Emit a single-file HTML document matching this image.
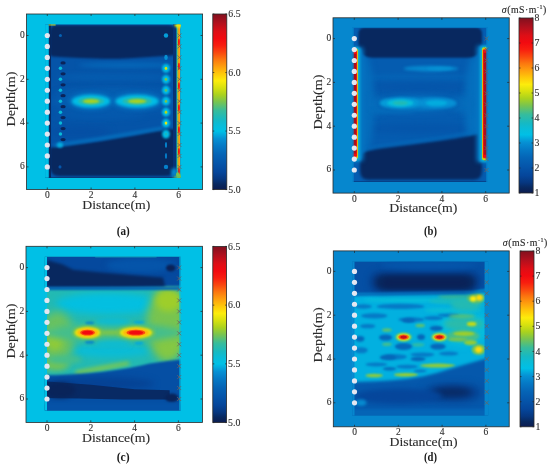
<!DOCTYPE html><html><head><meta charset="utf-8"><style>html,body{margin:0;padding:0;background:#fff;}svg{display:block}</style></head><body>
<svg width="550" height="466" viewBox="0 0 550 466">
<defs>
<linearGradient id="cmap" x1="0" y1="1" x2="0" y2="0"><stop offset="0.0" stop-color="#0c1c50"/><stop offset="0.03" stop-color="#08285f"/><stop offset="0.06" stop-color="#063780"/><stop offset="0.1" stop-color="#05469b"/><stop offset="0.15" stop-color="#0555aa"/><stop offset="0.2" stop-color="#0564b6"/><stop offset="0.25" stop-color="#057ac6"/><stop offset="0.29" stop-color="#0691d4"/><stop offset="0.333" stop-color="#00c0e6"/><stop offset="0.37" stop-color="#0abcd7"/><stop offset="0.4" stop-color="#16b9c3"/><stop offset="0.45" stop-color="#37bc9b"/><stop offset="0.5" stop-color="#78c450"/><stop offset="0.54" stop-color="#aad21e"/><stop offset="0.58" stop-color="#d7e10f"/><stop offset="0.62" stop-color="#fcec0c"/><stop offset="0.66" stop-color="#fec80a"/><stop offset="0.7" stop-color="#fea00e"/><stop offset="0.74" stop-color="#fc780f"/><stop offset="0.78" stop-color="#fa480f"/><stop offset="0.82" stop-color="#f81e0f"/><stop offset="0.86" stop-color="#f20a10"/><stop offset="0.9" stop-color="#de0e16"/><stop offset="0.95" stop-color="#b0101e"/><stop offset="1.0" stop-color="#82101e"/></linearGradient>
<filter id="b0_3" x="-50%" y="-50%" width="200%" height="200%" color-interpolation-filters="sRGB"><feGaussianBlur stdDeviation="0.3"/></filter>
<filter id="b0_4" x="-50%" y="-50%" width="200%" height="200%" color-interpolation-filters="sRGB"><feGaussianBlur stdDeviation="0.4"/></filter>
<filter id="b0_5" x="-50%" y="-50%" width="200%" height="200%" color-interpolation-filters="sRGB"><feGaussianBlur stdDeviation="0.5"/></filter>
<filter id="b0_6" x="-50%" y="-50%" width="200%" height="200%" color-interpolation-filters="sRGB"><feGaussianBlur stdDeviation="0.6"/></filter>
<filter id="b0_7" x="-50%" y="-50%" width="200%" height="200%" color-interpolation-filters="sRGB"><feGaussianBlur stdDeviation="0.7"/></filter>
<filter id="b0_8" x="-50%" y="-50%" width="200%" height="200%" color-interpolation-filters="sRGB"><feGaussianBlur stdDeviation="0.8"/></filter>
<filter id="b0_9" x="-50%" y="-50%" width="200%" height="200%" color-interpolation-filters="sRGB"><feGaussianBlur stdDeviation="0.9"/></filter>
<filter id="b1" x="-50%" y="-50%" width="200%" height="200%" color-interpolation-filters="sRGB"><feGaussianBlur stdDeviation="1"/></filter>
<filter id="b1_2" x="-50%" y="-50%" width="200%" height="200%" color-interpolation-filters="sRGB"><feGaussianBlur stdDeviation="1.2"/></filter>
<filter id="b1_5" x="-50%" y="-50%" width="200%" height="200%" color-interpolation-filters="sRGB"><feGaussianBlur stdDeviation="1.5"/></filter>
<filter id="b1_8" x="-50%" y="-50%" width="200%" height="200%" color-interpolation-filters="sRGB"><feGaussianBlur stdDeviation="1.8"/></filter>
<filter id="b2" x="-50%" y="-50%" width="200%" height="200%" color-interpolation-filters="sRGB"><feGaussianBlur stdDeviation="2"/></filter>
<filter id="b2_5" x="-50%" y="-50%" width="200%" height="200%" color-interpolation-filters="sRGB"><feGaussianBlur stdDeviation="2.5"/></filter>
<filter id="b3" x="-50%" y="-50%" width="200%" height="200%" color-interpolation-filters="sRGB"><feGaussianBlur stdDeviation="3"/></filter>
<filter id="b3_5" x="-50%" y="-50%" width="200%" height="200%" color-interpolation-filters="sRGB"><feGaussianBlur stdDeviation="3.5"/></filter>
<filter id="b4" x="-50%" y="-50%" width="200%" height="200%" color-interpolation-filters="sRGB"><feGaussianBlur stdDeviation="4"/></filter>
<filter id="b4_5" x="-50%" y="-50%" width="200%" height="200%" color-interpolation-filters="sRGB"><feGaussianBlur stdDeviation="4.5"/></filter>
<filter id="b5" x="-50%" y="-50%" width="200%" height="200%" color-interpolation-filters="sRGB"><feGaussianBlur stdDeviation="5"/></filter>
<filter id="b6" x="-50%" y="-50%" width="200%" height="200%" color-interpolation-filters="sRGB"><feGaussianBlur stdDeviation="6"/></filter>
<filter id="b7" x="-50%" y="-50%" width="200%" height="200%" color-interpolation-filters="sRGB"><feGaussianBlur stdDeviation="7"/></filter>
<filter id="b8" x="-50%" y="-50%" width="200%" height="200%" color-interpolation-filters="sRGB"><feGaussianBlur stdDeviation="8"/></filter>
<filter id="b10" x="-50%" y="-50%" width="200%" height="200%" color-interpolation-filters="sRGB"><feGaussianBlur stdDeviation="10"/></filter>
</defs>
<rect width="550" height="466" fill="#fff"/>
<rect x="26.5" y="14" width="176.1" height="175.5" fill="#00c0e6"/>
<clipPath id="clipa"><rect x="45.11" y="24.55" width="135.78" height="153.3"/></clipPath>
<g clip-path="url(#clipa)">
<rect x="40.73" y="17.98" width="144.54" height="166.44" fill="#0554a8"/>
<ellipse cx="126.14" cy="65.06" rx="48.18" ry="2.63" fill="#0568b9" filter="url(#b2)"/>
<ellipse cx="113" cy="77.11" rx="56.94" ry="3.94" fill="#055caf" filter="url(#b2_5)"/>
<ellipse cx="113" cy="92.44" rx="56.94" ry="4.38" fill="#055caf" filter="url(#b2_5)"/>
<ellipse cx="113" cy="101.2" rx="61.32" ry="10.95" fill="#055eb1" filter="url(#b4)"/>
<ellipse cx="99.86" cy="114.34" rx="43.8" ry="5.47" fill="#0559ad" filter="url(#b3)"/>
<ellipse cx="80.15" cy="131.86" rx="30.66" ry="5.47" fill="#054fa4" filter="url(#b3)"/>
<path d="M56.93,25.21 L168.41,25.21 Q175.41,25.21 175.41,32.21 L175.41,52.21 Q175.41,55.21 172.42,55.43 L160.63,56.3 Q145.85,57.4 129.42,58.28 L129.42,58.28 Q113,59.15 96.57,58.6 L96.57,58.6 Q80.15,58.06 65.04,57.18 L52.92,56.48 Q49.93,56.3 49.93,53.3 L49.93,32.21 Q49.93,25.21 56.93,25.21Z" fill="#08285f" filter="url(#b0_8)"/>
<path d="M52.91,147.29 L59.56,146.53 Q69.2,145.44 85.62,143.25 L85.62,143.25 Q102.05,141.06 118.47,138.1 L118.47,138.1 Q134.9,135.14 145.85,132.95 L145.85,132.95 Q156.8,130.76 166.11,129.67 L172.44,128.93 Q175.41,128.57 175.41,131.57 L175.41,166.1 Q175.41,176.1 165.41,176.1 L59.93,176.1 Q49.93,176.1 49.93,166.1 L49.93,150.63 Q49.93,147.63 52.91,147.29Z" fill="#08285f" filter="url(#b0_8)"/>
<path d="M53.87,143.91 L102.05,136.68 L163.37,126.39 L163.37,130.11 L102.05,140.18 L53.87,147.19Z" fill="#057ac6" filter="url(#b1_5)" opacity="0.7"/>
<rect x="42.92" y="177.19" width="142.35" height="2.85" fill="#0a2156"/>
<rect x="48.61" y="22.36" width="2.41" height="157.68" fill="#08285f" filter="url(#b0_4)"/>
<rect x="40.73" y="17.98" width="7.99" height="166.44" fill="#00c0e6"/>
<ellipse cx="91.1" cy="101.2" rx="22.34" ry="8.76" fill="#0571c0" filter="url(#b2)"/>
<ellipse cx="91.1" cy="101.2" rx="19.17" ry="6.35" fill="#00bde5" filter="url(#b1_5)"/>
<ellipse cx="91.1" cy="101.2" rx="13.03" ry="3.72" fill="#28bbad" filter="url(#b1_2)"/>
<ellipse cx="91.1" cy="101.2" rx="8.38" ry="2.19" fill="#a9d21f" filter="url(#b1)"/>
<ellipse cx="137.09" cy="101.2" rx="24.97" ry="8.76" fill="#0571c0" filter="url(#b2)"/>
<ellipse cx="137.09" cy="101.2" rx="21.43" ry="6.35" fill="#00bde5" filter="url(#b1_5)"/>
<ellipse cx="137.09" cy="101.2" rx="14.56" ry="3.72" fill="#28bbad" filter="url(#b1_2)"/>
<ellipse cx="137.09" cy="101.2" rx="9.36" ry="2.19" fill="#a9d21f" filter="url(#b1)"/>
<ellipse cx="60.44" cy="68.35" rx="1.75" ry="1.75" fill="#09bcd8" filter="url(#b0_5)"/>
<ellipse cx="63.07" cy="62.88" rx="2.63" ry="1.64" fill="#0a2359" filter="url(#b0_5)"/>
<ellipse cx="60.44" cy="79.3" rx="1.75" ry="1.75" fill="#09bcd8" filter="url(#b0_5)"/>
<ellipse cx="63.07" cy="73.82" rx="2.63" ry="1.64" fill="#0a2359" filter="url(#b0_5)"/>
<ellipse cx="60.44" cy="90.25" rx="1.75" ry="1.75" fill="#09bcd8" filter="url(#b0_5)"/>
<ellipse cx="63.07" cy="84.78" rx="2.63" ry="1.64" fill="#0a2359" filter="url(#b0_5)"/>
<ellipse cx="60.44" cy="101.2" rx="1.75" ry="1.75" fill="#09bcd8" filter="url(#b0_5)"/>
<ellipse cx="63.07" cy="95.72" rx="2.63" ry="1.64" fill="#0a2359" filter="url(#b0_5)"/>
<ellipse cx="60.44" cy="112.15" rx="1.75" ry="1.75" fill="#09bcd8" filter="url(#b0_5)"/>
<ellipse cx="63.07" cy="106.67" rx="2.63" ry="1.64" fill="#0a2359" filter="url(#b0_5)"/>
<ellipse cx="60.44" cy="123.1" rx="1.75" ry="1.75" fill="#09bcd8" filter="url(#b0_5)"/>
<ellipse cx="63.07" cy="117.62" rx="2.63" ry="1.64" fill="#0a2359" filter="url(#b0_5)"/>
<ellipse cx="60.44" cy="134.05" rx="1.75" ry="1.75" fill="#09bcd8" filter="url(#b0_5)"/>
<ellipse cx="63.07" cy="128.57" rx="2.63" ry="1.64" fill="#0a2359" filter="url(#b0_5)"/>
<ellipse cx="63.07" cy="139.52" rx="2.63" ry="1.64" fill="#0a2359" filter="url(#b0_5)"/>
<ellipse cx="60.44" cy="35.5" rx="1.53" ry="1.53" fill="#0561b4" filter="url(#b0_5)"/>
<ellipse cx="60" cy="145" rx="3.07" ry="2.63" fill="#03acde" filter="url(#b0_8)"/>
<ellipse cx="60" cy="166.9" rx="1.53" ry="1.53" fill="#0556ab" filter="url(#b0_5)"/>
<ellipse cx="166" cy="68.35" rx="3.94" ry="4.38" fill="#00bde5" filter="url(#b0_9)"/>
<ellipse cx="166" cy="68.35" rx="1.31" ry="1.53" fill="#d7e10f" filter="url(#b0_5)"/>
<ellipse cx="166" cy="79.3" rx="3.94" ry="4.38" fill="#00bde5" filter="url(#b0_9)"/>
<ellipse cx="166" cy="79.3" rx="1.31" ry="1.53" fill="#78c450" filter="url(#b0_5)"/>
<ellipse cx="166" cy="90.25" rx="3.94" ry="4.38" fill="#00bde5" filter="url(#b0_9)"/>
<ellipse cx="166" cy="90.25" rx="1.31" ry="1.53" fill="#5ec16e" filter="url(#b0_5)"/>
<ellipse cx="166" cy="101.2" rx="3.94" ry="4.38" fill="#00bde5" filter="url(#b0_9)"/>
<ellipse cx="166" cy="101.2" rx="1.31" ry="1.53" fill="#78c450" filter="url(#b0_5)"/>
<ellipse cx="166" cy="112.15" rx="3.94" ry="4.38" fill="#00bde5" filter="url(#b0_9)"/>
<ellipse cx="166" cy="112.15" rx="1.31" ry="1.53" fill="#b5d61a" filter="url(#b0_5)"/>
<ellipse cx="166" cy="123.1" rx="3.94" ry="4.38" fill="#00bde5" filter="url(#b0_9)"/>
<ellipse cx="166" cy="123.1" rx="1.31" ry="1.53" fill="#eae60e" filter="url(#b0_5)"/>
<ellipse cx="166" cy="134.05" rx="3.94" ry="4.38" fill="#00bde5" filter="url(#b0_9)"/>
<ellipse cx="166" cy="134.05" rx="1.31" ry="1.53" fill="#16b9c3" filter="url(#b0_5)"/>
<ellipse cx="166" cy="35.5" rx="2.19" ry="2.19" fill="#049ed9" filter="url(#b0_6)"/>
<ellipse cx="166" cy="57.4" rx="1.75" ry="2.63" fill="#0691d4" filter="url(#b0_6)"/>
<ellipse cx="166" cy="145" rx="1.09" ry="3.07" fill="#0581cb" filter="url(#b0_6)"/>
<ellipse cx="166" cy="155.95" rx="1.09" ry="3.07" fill="#057ac6" filter="url(#b0_6)"/>
<ellipse cx="166" cy="166.9" rx="2.19" ry="2.19" fill="#0581cb" filter="url(#b0_6)"/>
<rect x="173.01" y="22.36" width="3.5" height="157.68" fill="#073275" filter="url(#b0_5)"/>
<rect x="176.51" y="22.36" width="1.31" height="157.68" fill="#16b9c3" filter="url(#b0_4)"/>
<rect x="177.39" y="22.36" width="0.99" height="157.68" fill="#c1da16" filter="url(#b0_3)"/>
<rect x="178.15" y="22.36" width="2.08" height="157.68" fill="#fea00e"/>
<ellipse cx="178.92" cy="42.07" rx="0.88" ry="3.5" fill="#f40f10" filter="url(#b0_4)"/>
<ellipse cx="178.92" cy="66.16" rx="0.88" ry="3.5" fill="#f40f10" filter="url(#b0_4)"/>
<ellipse cx="178.92" cy="85.87" rx="0.88" ry="3.5" fill="#f40f10" filter="url(#b0_4)"/>
<ellipse cx="178.92" cy="107.77" rx="0.88" ry="3.5" fill="#f40f10" filter="url(#b0_4)"/>
<ellipse cx="178.92" cy="129.67" rx="0.88" ry="3.5" fill="#f40f10" filter="url(#b0_4)"/>
<ellipse cx="178.92" cy="151.57" rx="0.88" ry="3.5" fill="#f40f10" filter="url(#b0_4)"/>
<ellipse cx="178.92" cy="171.28" rx="0.88" ry="3.5" fill="#f40f10" filter="url(#b0_4)"/>
<rect x="180.23" y="17.98" width="7.23" height="166.44" fill="#00c0e6"/>
<rect x="48.61" y="24.11" width="7.01" height="1.31" fill="#e9e60e"/>
<ellipse cx="178.7" cy="24.55" rx="4.38" ry="3.07" fill="#eae60e" filter="url(#b0_8)"/>
<ellipse cx="178.7" cy="177.85" rx="5.47" ry="3.94" fill="#75c453" filter="url(#b1)"/>
<ellipse cx="174.32" cy="172.38" rx="3.28" ry="4.38" fill="#0686cd" filter="url(#b1_5)"/>
<ellipse cx="177.61" cy="174.56" rx="1.53" ry="2.19" fill="#78c450" filter="url(#b0_6)"/>
</g>
<circle cx="47.3" cy="35.5" r="2.6" fill="#e4e7f1"/>
<circle cx="47.3" cy="46.45" r="2.6" fill="#e4e7f1"/>
<circle cx="47.3" cy="57.4" r="2.6" fill="#e4e7f1"/>
<circle cx="47.3" cy="68.35" r="2.6" fill="#e4e7f1"/>
<circle cx="47.3" cy="79.3" r="2.6" fill="#e4e7f1"/>
<circle cx="47.3" cy="90.25" r="2.6" fill="#e4e7f1"/>
<circle cx="47.3" cy="101.2" r="2.6" fill="#e4e7f1"/>
<circle cx="47.3" cy="112.15" r="2.6" fill="#e4e7f1"/>
<circle cx="47.3" cy="123.1" r="2.6" fill="#e4e7f1"/>
<circle cx="47.3" cy="134.05" r="2.6" fill="#e4e7f1"/>
<circle cx="47.3" cy="145" r="2.6" fill="#e4e7f1"/>
<circle cx="47.3" cy="155.95" r="2.6" fill="#e4e7f1"/>
<circle cx="47.3" cy="166.9" r="2.6" fill="#e4e7f1"/>
<path d="M177.5,33.5L181.5,37.5M177.5,37.5L181.5,33.5" stroke="#6a6262" stroke-width="0.8" fill="none"/>
<path d="M177.5,44.45L181.5,48.45M177.5,48.45L181.5,44.45" stroke="#6a6262" stroke-width="0.8" fill="none"/>
<path d="M177.5,55.4L181.5,59.4M177.5,59.4L181.5,55.4" stroke="#6a6262" stroke-width="0.8" fill="none"/>
<path d="M177.5,66.35L181.5,70.35M177.5,70.35L181.5,66.35" stroke="#6a6262" stroke-width="0.8" fill="none"/>
<path d="M177.5,77.3L181.5,81.3M177.5,81.3L181.5,77.3" stroke="#6a6262" stroke-width="0.8" fill="none"/>
<path d="M177.5,88.25L181.5,92.25M177.5,92.25L181.5,88.25" stroke="#6a6262" stroke-width="0.8" fill="none"/>
<path d="M177.5,99.2L181.5,103.2M177.5,103.2L181.5,99.2" stroke="#6a6262" stroke-width="0.8" fill="none"/>
<path d="M177.5,110.15L181.5,114.15M177.5,114.15L181.5,110.15" stroke="#6a6262" stroke-width="0.8" fill="none"/>
<path d="M177.5,121.1L181.5,125.1M177.5,125.1L181.5,121.1" stroke="#6a6262" stroke-width="0.8" fill="none"/>
<path d="M177.5,132.05L181.5,136.05M177.5,136.05L181.5,132.05" stroke="#6a6262" stroke-width="0.8" fill="none"/>
<path d="M177.5,143L181.5,147M177.5,147L181.5,143" stroke="#6a6262" stroke-width="0.8" fill="none"/>
<path d="M177.5,153.95L181.5,157.95M177.5,157.95L181.5,153.95" stroke="#6a6262" stroke-width="0.8" fill="none"/>
<path d="M177.5,164.9L181.5,168.9M177.5,168.9L181.5,164.9" stroke="#6a6262" stroke-width="0.8" fill="none"/>
<line x1="47.3" y1="14" x2="47.3" y2="16" stroke="#222" stroke-width="0.7"/>
<line x1="47.3" y1="189.5" x2="47.3" y2="187.5" stroke="#222" stroke-width="0.7"/>
<text x="47.3" y="198" font-family="Liberation Serif, serif" font-size="9.5" text-anchor="middle" fill="#2b2b2b" stroke="#2b2b2b" stroke-width="0.1">0</text>
<line x1="91.1" y1="14" x2="91.1" y2="16" stroke="#222" stroke-width="0.7"/>
<line x1="91.1" y1="189.5" x2="91.1" y2="187.5" stroke="#222" stroke-width="0.7"/>
<text x="91.1" y="198" font-family="Liberation Serif, serif" font-size="9.5" text-anchor="middle" fill="#2b2b2b" stroke="#2b2b2b" stroke-width="0.1">2</text>
<line x1="134.9" y1="14" x2="134.9" y2="16" stroke="#222" stroke-width="0.7"/>
<line x1="134.9" y1="189.5" x2="134.9" y2="187.5" stroke="#222" stroke-width="0.7"/>
<text x="134.9" y="198" font-family="Liberation Serif, serif" font-size="9.5" text-anchor="middle" fill="#2b2b2b" stroke="#2b2b2b" stroke-width="0.1">4</text>
<line x1="178.7" y1="14" x2="178.7" y2="16" stroke="#222" stroke-width="0.7"/>
<line x1="178.7" y1="189.5" x2="178.7" y2="187.5" stroke="#222" stroke-width="0.7"/>
<text x="178.7" y="198" font-family="Liberation Serif, serif" font-size="9.5" text-anchor="middle" fill="#2b2b2b" stroke="#2b2b2b" stroke-width="0.1">6</text>
<line x1="26.5" y1="35.5" x2="28.5" y2="35.5" stroke="#222" stroke-width="0.7"/>
<line x1="202.6" y1="35.5" x2="200.6" y2="35.5" stroke="#222" stroke-width="0.7"/>
<text x="24.8" y="37.8" font-family="Liberation Serif, serif" font-size="9.5" text-anchor="end" fill="#2b2b2b" stroke="#2b2b2b" stroke-width="0.1">0</text>
<line x1="26.5" y1="79.3" x2="28.5" y2="79.3" stroke="#222" stroke-width="0.7"/>
<line x1="202.6" y1="79.3" x2="200.6" y2="79.3" stroke="#222" stroke-width="0.7"/>
<text x="24.8" y="81.6" font-family="Liberation Serif, serif" font-size="9.5" text-anchor="end" fill="#2b2b2b" stroke="#2b2b2b" stroke-width="0.1">2</text>
<line x1="26.5" y1="123.1" x2="28.5" y2="123.1" stroke="#222" stroke-width="0.7"/>
<line x1="202.6" y1="123.1" x2="200.6" y2="123.1" stroke="#222" stroke-width="0.7"/>
<text x="24.8" y="125.4" font-family="Liberation Serif, serif" font-size="9.5" text-anchor="end" fill="#2b2b2b" stroke="#2b2b2b" stroke-width="0.1">4</text>
<line x1="26.5" y1="166.9" x2="28.5" y2="166.9" stroke="#222" stroke-width="0.7"/>
<line x1="202.6" y1="166.9" x2="200.6" y2="166.9" stroke="#222" stroke-width="0.7"/>
<text x="24.8" y="169.2" font-family="Liberation Serif, serif" font-size="9.5" text-anchor="end" fill="#2b2b2b" stroke="#2b2b2b" stroke-width="0.1">6</text>
<rect x="26.5" y="14" width="176.1" height="175.5" fill="none" stroke="#2a2a2a" stroke-width="0.8"/>
<text x="82.34" y="208.7" font-family="Liberation Serif, serif" font-size="12.4" fill="#2b2b2b" stroke="#2b2b2b" stroke-width="0.1" textLength="68" lengthAdjust="spacingAndGlyphs">Distance(m)</text>
<text transform="translate(15.3,99.01) rotate(-90)" font-family="Liberation Serif, serif" font-size="12.4" fill="#2b2b2b" stroke="#2b2b2b" stroke-width="0.1" text-anchor="middle" textLength="55" lengthAdjust="spacingAndGlyphs">Depth(m)</text>
<rect x="212.8" y="14" width="14" height="175.6" fill="url(#cmap)" stroke="#2a2a2a" stroke-width="0.8"/>
<line x1="212.8" y1="189.6" x2="214.3" y2="189.6" stroke="#222" stroke-width="0.7"/>
<line x1="226.8" y1="189.6" x2="225.3" y2="189.6" stroke="#222" stroke-width="0.7"/>
<text x="228.3" y="192.7" font-family="Liberation Serif, serif" font-size="9.8" fill="#2b2b2b" stroke="#2b2b2b" stroke-width="0.1">5.0</text>
<line x1="212.8" y1="131.07" x2="214.3" y2="131.07" stroke="#222" stroke-width="0.7"/>
<line x1="226.8" y1="131.07" x2="225.3" y2="131.07" stroke="#222" stroke-width="0.7"/>
<text x="228.3" y="134.17" font-family="Liberation Serif, serif" font-size="9.8" fill="#2b2b2b" stroke="#2b2b2b" stroke-width="0.1">5.5</text>
<line x1="212.8" y1="72.53" x2="214.3" y2="72.53" stroke="#222" stroke-width="0.7"/>
<line x1="226.8" y1="72.53" x2="225.3" y2="72.53" stroke="#222" stroke-width="0.7"/>
<text x="228.3" y="75.63" font-family="Liberation Serif, serif" font-size="9.8" fill="#2b2b2b" stroke="#2b2b2b" stroke-width="0.1">6.0</text>
<line x1="212.8" y1="14" x2="214.3" y2="14" stroke="#222" stroke-width="0.7"/>
<line x1="226.8" y1="14" x2="225.3" y2="14" stroke="#222" stroke-width="0.7"/>
<text x="228.3" y="17.1" font-family="Liberation Serif, serif" font-size="9.8" fill="#2b2b2b" stroke="#2b2b2b" stroke-width="0.1">6.5</text>
<text x="123.2" y="234.8" font-family="Liberation Serif, serif" font-size="12" font-weight="bold" fill="#1a1a1a" text-anchor="middle" textLength="13" lengthAdjust="spacingAndGlyphs">(a)</text>
<rect x="333" y="17.8" width="176.2" height="175.3" fill="#0687ce"/>
<clipPath id="clipb"><rect x="352.11" y="27.65" width="135.78" height="154.39"/></clipPath>
<g clip-path="url(#clipb)">
<rect x="347.73" y="21.08" width="144.54" height="166.44" fill="#055cb0"/>
<ellipse cx="420" cy="77.58" rx="61.32" ry="3.28" fill="#0564b6" filter="url(#b2_5)"/>
<ellipse cx="420" cy="86.78" rx="56.94" ry="4.82" fill="#0555aa" filter="url(#b3)"/>
<ellipse cx="430.95" cy="68.6" rx="27.38" ry="2.85" fill="#0688cf" filter="url(#b1_8)"/>
<ellipse cx="439.71" cy="68.6" rx="13.14" ry="1.53" fill="#0691d4" filter="url(#b1_2)"/>
<ellipse cx="420" cy="128.39" rx="56.94" ry="4.82" fill="#0555aa" filter="url(#b3)"/>
<ellipse cx="474.75" cy="104.3" rx="9.86" ry="50.37" fill="#056fbe" filter="url(#b3)"/>
<ellipse cx="364.16" cy="104.3" rx="9.86" ry="50.37" fill="#056dbc" filter="url(#b3)"/>
<ellipse cx="376.2" cy="105.39" rx="13.14" ry="7.66" fill="#056dbc" filter="url(#b3)"/>
<ellipse cx="463.8" cy="104.3" rx="13.14" ry="7.66" fill="#056dbc" filter="url(#b3)"/>
<ellipse cx="418.91" cy="103.64" rx="42.7" ry="9.86" fill="#0564b6" filter="url(#b2_5)"/>
<ellipse cx="418.91" cy="103.64" rx="38.32" ry="6.57" fill="#057ac6" filter="url(#b1_8)"/>
<ellipse cx="393.72" cy="111.31" rx="21.9" ry="2.19" fill="#056dbc" filter="url(#b2)"/>
<ellipse cx="400.29" cy="102.99" rx="20.8" ry="5.47" fill="#059cd8" filter="url(#b1_5)"/>
<ellipse cx="400.29" cy="102.99" rx="13.14" ry="3.5" fill="#07bddb" filter="url(#b1_2)"/>
<ellipse cx="400.29" cy="102.99" rx="7.66" ry="1.97" fill="#23bab3" filter="url(#b1)"/>
<ellipse cx="436.43" cy="102.99" rx="19.71" ry="5.04" fill="#0691d4" filter="url(#b1_5)"/>
<ellipse cx="436.43" cy="102.99" rx="10.95" ry="2.85" fill="#03acde" filter="url(#b1_2)"/>
<path d="M364.46,27.65 L475.98,27.65 Q481.98,27.65 481.98,33.65 L481.98,42.65 Q481.98,57.65 466.98,57.65 L373.46,57.65 Q358.46,57.65 358.46,42.65 L358.46,33.65 Q358.46,27.65 364.46,27.65Z" fill="#08285f" filter="url(#b0_9)"/>
<path d="M363.72,152.48 L363.72,152.48 Q367.44,150.29 379.32,148.59 L382.77,148.1 Q398.1,145.91 414.52,143.94 L414.52,143.94 Q430.95,141.97 447.38,139.56 L447.38,139.56 Q463.8,137.15 472.89,135.18 L476.11,134.48 Q481.98,133.21 481.98,139.21 L481.98,170.85 Q481.98,179.85 472.98,179.85 L368.99,179.85 Q359.99,179.85 359.99,170.85 L359.99,162.67 Q359.99,154.67 363.72,152.48Z" fill="#08285f" filter="url(#b1_5)"/>
<path d="M360.87,149.19 L376.2,145.47 L409.05,141.09 L441.9,136.71 L481.32,129.49 L481.32,132.33 L441.9,139.34 L409.05,143.72 L376.2,148.1 L360.87,152.04Z" fill="#056dbc" filter="url(#b1_5)" opacity="0.7"/>
<rect x="349.92" y="181.61" width="142.35" height="3.72" fill="#0a2156"/>
<rect x="349.92" y="47.36" width="13.58" height="113.88" rx="2" fill="#0576c3" filter="url(#b2)"/>
<rect x="349.92" y="47.36" width="10.95" height="113.88" rx="2" fill="#068bd0" filter="url(#b1_2)"/>
<rect x="349.92" y="47.8" width="9.2" height="112.35" rx="2" fill="#0ebbd0" filter="url(#b0_8)"/>
<rect x="349.92" y="48.45" width="8.1" height="110.59" rx="2" fill="#c1da16" filter="url(#b0_5)"/>
<rect x="349.92" y="49.55" width="7.45" height="108.41" rx="2" fill="#fd8c0e" filter="url(#b0_4)"/>
<rect x="349.92" y="50.65" width="7.01" height="106.22" rx="1" fill="#f20a10" filter="url(#b0_3)"/>
<rect x="349.92" y="53.93" width="6.24" height="99.64" fill="#a7101e" filter="url(#b0_3)"/>
<rect x="476.5" y="45.61" width="15.77" height="116.73" rx="2" fill="#0576c3" filter="url(#b2)"/>
<rect x="479.13" y="45.61" width="13.14" height="116.73" rx="2" fill="#068bd0" filter="url(#b1_2)"/>
<rect x="480.88" y="46.48" width="11.39" height="114.76" rx="2" fill="#0ebbd0" filter="url(#b0_8)"/>
<rect x="481.98" y="47.36" width="10.29" height="112.78" rx="2" fill="#c1da16" filter="url(#b0_5)"/>
<rect x="482.63" y="48.45" width="9.64" height="110.59" rx="2" fill="#fd8c0e" filter="url(#b0_4)"/>
<rect x="483.07" y="49.55" width="9.2" height="108.41" rx="1" fill="#f20a10" filter="url(#b0_3)"/>
<rect x="483.95" y="52.84" width="8.32" height="101.83" fill="#a7101e" filter="url(#b0_3)"/>
<rect x="343.35" y="21.08" width="10.29" height="166.44" fill="#0687ce"/>
<rect x="486.36" y="21.08" width="10.29" height="166.44" fill="#0687ce"/>
</g>
<circle cx="354.3" cy="38.6" r="2.6" fill="#e4e7f1"/>
<circle cx="354.3" cy="49.55" r="2.6" fill="#e4e7f1"/>
<circle cx="354.3" cy="60.5" r="2.6" fill="#e4e7f1"/>
<circle cx="354.3" cy="71.45" r="2.6" fill="#e4e7f1"/>
<circle cx="354.3" cy="82.4" r="2.6" fill="#e4e7f1"/>
<circle cx="354.3" cy="93.35" r="2.6" fill="#e4e7f1"/>
<circle cx="354.3" cy="104.3" r="2.6" fill="#e4e7f1"/>
<circle cx="354.3" cy="115.25" r="2.6" fill="#e4e7f1"/>
<circle cx="354.3" cy="126.2" r="2.6" fill="#e4e7f1"/>
<circle cx="354.3" cy="137.15" r="2.6" fill="#e4e7f1"/>
<circle cx="354.3" cy="148.1" r="2.6" fill="#e4e7f1"/>
<circle cx="354.3" cy="159.05" r="2.6" fill="#e4e7f1"/>
<circle cx="354.3" cy="170" r="2.6" fill="#e4e7f1"/>
<path d="M484.5,36.6L488.5,40.6M484.5,40.6L488.5,36.6" stroke="#6a6262" stroke-width="0.8" fill="none"/>
<path d="M484.5,47.55L488.5,51.55M484.5,51.55L488.5,47.55" stroke="#6a6262" stroke-width="0.8" fill="none"/>
<path d="M484.5,58.5L488.5,62.5M484.5,62.5L488.5,58.5" stroke="#6a6262" stroke-width="0.8" fill="none"/>
<path d="M484.5,69.45L488.5,73.45M484.5,73.45L488.5,69.45" stroke="#6a6262" stroke-width="0.8" fill="none"/>
<path d="M484.5,80.4L488.5,84.4M484.5,84.4L488.5,80.4" stroke="#6a6262" stroke-width="0.8" fill="none"/>
<path d="M484.5,91.35L488.5,95.35M484.5,95.35L488.5,91.35" stroke="#6a6262" stroke-width="0.8" fill="none"/>
<path d="M484.5,102.3L488.5,106.3M484.5,106.3L488.5,102.3" stroke="#6a6262" stroke-width="0.8" fill="none"/>
<path d="M484.5,113.25L488.5,117.25M484.5,117.25L488.5,113.25" stroke="#6a6262" stroke-width="0.8" fill="none"/>
<path d="M484.5,124.2L488.5,128.2M484.5,128.2L488.5,124.2" stroke="#6a6262" stroke-width="0.8" fill="none"/>
<path d="M484.5,135.15L488.5,139.15M484.5,139.15L488.5,135.15" stroke="#6a6262" stroke-width="0.8" fill="none"/>
<path d="M484.5,146.1L488.5,150.1M484.5,150.1L488.5,146.1" stroke="#6a6262" stroke-width="0.8" fill="none"/>
<path d="M484.5,157.05L488.5,161.05M484.5,161.05L488.5,157.05" stroke="#6a6262" stroke-width="0.8" fill="none"/>
<path d="M484.5,168L488.5,172M484.5,172L488.5,168" stroke="#6a6262" stroke-width="0.8" fill="none"/>
<line x1="354.3" y1="17.8" x2="354.3" y2="19.8" stroke="#222" stroke-width="0.7"/>
<line x1="354.3" y1="193.1" x2="354.3" y2="191.1" stroke="#222" stroke-width="0.7"/>
<text x="354.3" y="201.6" font-family="Liberation Serif, serif" font-size="9.5" text-anchor="middle" fill="#2b2b2b" stroke="#2b2b2b" stroke-width="0.1">0</text>
<line x1="398.1" y1="17.8" x2="398.1" y2="19.8" stroke="#222" stroke-width="0.7"/>
<line x1="398.1" y1="193.1" x2="398.1" y2="191.1" stroke="#222" stroke-width="0.7"/>
<text x="398.1" y="201.6" font-family="Liberation Serif, serif" font-size="9.5" text-anchor="middle" fill="#2b2b2b" stroke="#2b2b2b" stroke-width="0.1">2</text>
<line x1="441.9" y1="17.8" x2="441.9" y2="19.8" stroke="#222" stroke-width="0.7"/>
<line x1="441.9" y1="193.1" x2="441.9" y2="191.1" stroke="#222" stroke-width="0.7"/>
<text x="441.9" y="201.6" font-family="Liberation Serif, serif" font-size="9.5" text-anchor="middle" fill="#2b2b2b" stroke="#2b2b2b" stroke-width="0.1">4</text>
<line x1="485.7" y1="17.8" x2="485.7" y2="19.8" stroke="#222" stroke-width="0.7"/>
<line x1="485.7" y1="193.1" x2="485.7" y2="191.1" stroke="#222" stroke-width="0.7"/>
<text x="485.7" y="201.6" font-family="Liberation Serif, serif" font-size="9.5" text-anchor="middle" fill="#2b2b2b" stroke="#2b2b2b" stroke-width="0.1">6</text>
<line x1="333" y1="38.6" x2="335" y2="38.6" stroke="#222" stroke-width="0.7"/>
<line x1="509.2" y1="38.6" x2="507.2" y2="38.6" stroke="#222" stroke-width="0.7"/>
<text x="331.3" y="40.9" font-family="Liberation Serif, serif" font-size="9.5" text-anchor="end" fill="#2b2b2b" stroke="#2b2b2b" stroke-width="0.1">0</text>
<line x1="333" y1="82.4" x2="335" y2="82.4" stroke="#222" stroke-width="0.7"/>
<line x1="509.2" y1="82.4" x2="507.2" y2="82.4" stroke="#222" stroke-width="0.7"/>
<text x="331.3" y="84.7" font-family="Liberation Serif, serif" font-size="9.5" text-anchor="end" fill="#2b2b2b" stroke="#2b2b2b" stroke-width="0.1">2</text>
<line x1="333" y1="126.2" x2="335" y2="126.2" stroke="#222" stroke-width="0.7"/>
<line x1="509.2" y1="126.2" x2="507.2" y2="126.2" stroke="#222" stroke-width="0.7"/>
<text x="331.3" y="128.5" font-family="Liberation Serif, serif" font-size="9.5" text-anchor="end" fill="#2b2b2b" stroke="#2b2b2b" stroke-width="0.1">4</text>
<line x1="333" y1="170" x2="335" y2="170" stroke="#222" stroke-width="0.7"/>
<line x1="509.2" y1="170" x2="507.2" y2="170" stroke="#222" stroke-width="0.7"/>
<text x="331.3" y="172.3" font-family="Liberation Serif, serif" font-size="9.5" text-anchor="end" fill="#2b2b2b" stroke="#2b2b2b" stroke-width="0.1">6</text>
<rect x="333" y="17.8" width="176.2" height="175.3" fill="none" stroke="#2a2a2a" stroke-width="0.8"/>
<text x="389.34" y="212.3" font-family="Liberation Serif, serif" font-size="12.4" fill="#2b2b2b" stroke="#2b2b2b" stroke-width="0.1" textLength="68" lengthAdjust="spacingAndGlyphs">Distance(m)</text>
<text transform="translate(321.8,102.11) rotate(-90)" font-family="Liberation Serif, serif" font-size="12.4" fill="#2b2b2b" stroke="#2b2b2b" stroke-width="0.1" text-anchor="middle" textLength="55" lengthAdjust="spacingAndGlyphs">Depth(m)</text>
<rect x="519" y="18" width="14.1" height="175" fill="url(#cmap)" stroke="#2a2a2a" stroke-width="0.8"/>
<line x1="519" y1="193" x2="520.5" y2="193" stroke="#222" stroke-width="0.7"/>
<line x1="533.1" y1="193" x2="531.6" y2="193" stroke="#222" stroke-width="0.7"/>
<text x="534.6" y="196.1" font-family="Liberation Serif, serif" font-size="9.8" fill="#2b2b2b" stroke="#2b2b2b" stroke-width="0.1">1</text>
<line x1="519" y1="168" x2="520.5" y2="168" stroke="#222" stroke-width="0.7"/>
<line x1="533.1" y1="168" x2="531.6" y2="168" stroke="#222" stroke-width="0.7"/>
<text x="534.6" y="171.1" font-family="Liberation Serif, serif" font-size="9.8" fill="#2b2b2b" stroke="#2b2b2b" stroke-width="0.1">2</text>
<line x1="519" y1="143" x2="520.5" y2="143" stroke="#222" stroke-width="0.7"/>
<line x1="533.1" y1="143" x2="531.6" y2="143" stroke="#222" stroke-width="0.7"/>
<text x="534.6" y="146.1" font-family="Liberation Serif, serif" font-size="9.8" fill="#2b2b2b" stroke="#2b2b2b" stroke-width="0.1">3</text>
<line x1="519" y1="118" x2="520.5" y2="118" stroke="#222" stroke-width="0.7"/>
<line x1="533.1" y1="118" x2="531.6" y2="118" stroke="#222" stroke-width="0.7"/>
<text x="534.6" y="121.1" font-family="Liberation Serif, serif" font-size="9.8" fill="#2b2b2b" stroke="#2b2b2b" stroke-width="0.1">4</text>
<line x1="519" y1="93" x2="520.5" y2="93" stroke="#222" stroke-width="0.7"/>
<line x1="533.1" y1="93" x2="531.6" y2="93" stroke="#222" stroke-width="0.7"/>
<text x="534.6" y="96.1" font-family="Liberation Serif, serif" font-size="9.8" fill="#2b2b2b" stroke="#2b2b2b" stroke-width="0.1">5</text>
<line x1="519" y1="68" x2="520.5" y2="68" stroke="#222" stroke-width="0.7"/>
<line x1="533.1" y1="68" x2="531.6" y2="68" stroke="#222" stroke-width="0.7"/>
<text x="534.6" y="71.1" font-family="Liberation Serif, serif" font-size="9.8" fill="#2b2b2b" stroke="#2b2b2b" stroke-width="0.1">6</text>
<line x1="519" y1="43" x2="520.5" y2="43" stroke="#222" stroke-width="0.7"/>
<line x1="533.1" y1="43" x2="531.6" y2="43" stroke="#222" stroke-width="0.7"/>
<text x="534.6" y="46.1" font-family="Liberation Serif, serif" font-size="9.8" fill="#2b2b2b" stroke="#2b2b2b" stroke-width="0.1">7</text>
<line x1="519" y1="18" x2="520.5" y2="18" stroke="#222" stroke-width="0.7"/>
<line x1="533.1" y1="18" x2="531.6" y2="18" stroke="#222" stroke-width="0.7"/>
<text x="534.6" y="21.1" font-family="Liberation Serif, serif" font-size="9.8" fill="#2b2b2b" stroke="#2b2b2b" stroke-width="0.1">8</text>
<text x="501.8" y="12.7" font-family="Liberation Serif, serif" font-size="9.8" fill="#2b2b2b" stroke="#2b2b2b" stroke-width="0.15" textLength="44.5"><tspan font-style="italic">σ</tspan>(mS·m<tspan font-size="6" dy="-3.6">-1</tspan><tspan dy="3.6">)</tspan></text>
<text x="430.5" y="234.5" font-family="Liberation Serif, serif" font-size="12" font-weight="bold" fill="#1a1a1a" text-anchor="middle" textLength="13" lengthAdjust="spacingAndGlyphs">(b)</text>
<rect x="26" y="246.3" width="176.5" height="176.1" fill="#00c0e6"/>
<clipPath id="clipc"><rect x="44.81" y="256.65" width="135.78" height="153.96"/></clipPath>
<g clip-path="url(#clipc)">
<rect x="40.43" y="250.08" width="144.54" height="166.44" fill="#23bab3"/>
<ellipse cx="108.32" cy="303.74" rx="52.56" ry="10.95" fill="#03bfe1" filter="url(#b3_5)"/>
<ellipse cx="110.51" cy="350.82" rx="41.61" ry="6.57" fill="#0abcd7" filter="url(#b3)"/>
<ellipse cx="166.35" cy="324.54" rx="19.71" ry="37.23" fill="#78c450" filter="url(#b4)"/>
<ellipse cx="168.54" cy="300.45" rx="13.14" ry="10.95" fill="#9ece2a" filter="url(#b3)"/>
<ellipse cx="168.54" cy="344.25" rx="10.95" ry="13.14" fill="#84c844" filter="url(#b3)"/>
<ellipse cx="56.86" cy="337.68" rx="17.52" ry="26.28" fill="#6bc25f" filter="url(#b4)"/>
<ellipse cx="54.66" cy="339.87" rx="8.76" ry="10.95" fill="#91cb37" filter="url(#b3)"/>
<ellipse cx="55.76" cy="363.96" rx="13.14" ry="6.57" fill="#78c450" filter="url(#b3)"/>
<ellipse cx="112.7" cy="332.64" rx="70.08" ry="9.2" fill="#44be8c" filter="url(#b3)"/>
<ellipse cx="112.7" cy="332.64" rx="32.85" ry="2.63" fill="#78c450" filter="url(#b1_5)"/>
<ellipse cx="112.7" cy="321.25" rx="17.52" ry="3.94" fill="#0ebbd0" filter="url(#b2)"/>
<ellipse cx="112.7" cy="344.25" rx="17.52" ry="3.94" fill="#0ebbd0" filter="url(#b2)"/>
<ellipse cx="89.7" cy="323.01" rx="4.38" ry="1.53" fill="#0686cd" filter="url(#b0_8)"/>
<ellipse cx="89.7" cy="342.06" rx="4.82" ry="1.75" fill="#0686cd" filter="url(#b0_8)"/>
<ellipse cx="138.98" cy="322.35" rx="5.47" ry="1.31" fill="#03a7dc" filter="url(#b1)"/>
<ellipse cx="138.98" cy="343.16" rx="4.38" ry="1.31" fill="#03a7dc" filter="url(#b1)"/>
<ellipse cx="87.52" cy="332.64" rx="15.24" ry="7.23" fill="#78c450" filter="url(#b1_5)"/>
<ellipse cx="87.52" cy="332.64" rx="12.7" ry="5.37" fill="#eae60e" filter="url(#b1)"/>
<ellipse cx="87.52" cy="332.64" rx="10.42" ry="4.16" fill="#feb40c" filter="url(#b0_8)"/>
<ellipse cx="87.52" cy="332.64" rx="7.36" ry="2.85" fill="#fa480f" filter="url(#b0_7)"/>
<ellipse cx="87.52" cy="332.64" rx="5.61" ry="1.97" fill="#f20a10" filter="url(#b0_6)"/>
<ellipse cx="135.91" cy="332.64" rx="19.18" ry="7.23" fill="#78c450" filter="url(#b1_5)"/>
<ellipse cx="135.91" cy="332.64" rx="15.99" ry="5.37" fill="#eae60e" filter="url(#b1)"/>
<ellipse cx="135.91" cy="332.64" rx="13.11" ry="4.16" fill="#feb40c" filter="url(#b0_8)"/>
<ellipse cx="135.91" cy="332.64" rx="9.43" ry="2.85" fill="#fa480f" filter="url(#b0_7)"/>
<ellipse cx="135.91" cy="332.64" rx="7.18" ry="1.97" fill="#f20a10" filter="url(#b0_6)"/>
<path d="M75.47,370.97 L101.75,366.15 L128.03,361.77 L130.22,364.4 L101.75,370.09 L75.47,374.47Z" fill="#91cb37" filter="url(#b2)"/>
<ellipse cx="64.52" cy="359.58" rx="17.52" ry="4.38" fill="#44be8c" filter="url(#b2_5)"/>
<path d="M40.43,375.35 L56.86,375.13 Q73.28,374.91 87.52,373.6 L87.52,373.6 Q101.75,372.28 115.98,370.09 L115.98,370.09 Q130.22,367.9 142.26,365.16 L142.26,365.16 Q154.31,362.43 169.64,360.78 L184.97,359.14 Q184.97,359.14 184.97,359.14 L184.97,416.52 Q184.97,416.52 184.97,416.52 L40.43,416.52 Q40.43,416.52 40.43,416.52 L40.43,375.35 Q40.43,375.35 40.43,375.35Z" fill="#054fa4" filter="url(#b1)"/>
<ellipse cx="97.37" cy="383.67" rx="56.94" ry="6.57" fill="#054294" filter="url(#b3)"/>
<path d="M47,381.48 L90.8,384.76 L134.6,389.14 L169.64,390.24 L169.64,399.44 L123.65,399.44 L79.85,398.56 L47,397.91Z" fill="#082a64" filter="url(#b2_2)"/>
<ellipse cx="60.14" cy="390.24" rx="15.33" ry="7.66" fill="#09245a" filter="url(#b2)"/>
<ellipse cx="171.83" cy="397.91" rx="6.57" ry="4.38" fill="#09245a" filter="url(#b1_2)"/>
<rect x="40.43" y="403.38" width="144.54" height="13.14" fill="#0552a7" filter="url(#b1_5)"/>
<path d="M40.43,250.08 L184.97,250.08 Q184.97,250.08 184.97,250.08 L184.97,286.22 Q184.97,286.22 184.97,286.22 L40.43,287.31 Q40.43,287.31 40.43,287.31 L40.43,250.08 Q40.43,250.08 40.43,250.08Z" fill="#05499e" filter="url(#b0_8)"/>
<ellipse cx="141.17" cy="265.41" rx="35.04" ry="7.01" fill="#0555aa" filter="url(#b2_5)"/>
<path d="M47,259.94 L62.33,264.31 L73.28,269.79 L101.75,272.42 L134.6,275.27 L163.07,277.46 L165.26,286.43 L123.65,287.31 L47,287.75Z" fill="#08285f" filter="url(#b1_5)"/>
<ellipse cx="170.74" cy="268.04" rx="4.82" ry="3.5" fill="#0a2258" filter="url(#b1_2)"/>
<rect x="47" y="286.87" width="137.97" height="3.07" fill="#0564b6" filter="url(#b0_8)"/>
<rect x="95.18" y="255.56" width="61.32" height="1.75" fill="#16b9c3" filter="url(#b0_6)"/>
<rect x="36.05" y="250.08" width="10.95" height="166.44" fill="#00c0e6"/>
<rect x="179.49" y="250.08" width="9.86" height="166.44" fill="#00c0e6"/>
</g>
<circle cx="47" cy="267.6" r="2.6" fill="#e4e7f1"/>
<circle cx="47" cy="278.55" r="2.6" fill="#e4e7f1"/>
<circle cx="47" cy="289.5" r="2.6" fill="#e4e7f1"/>
<circle cx="47" cy="300.45" r="2.6" fill="#e4e7f1"/>
<circle cx="47" cy="311.4" r="2.6" fill="#e4e7f1"/>
<circle cx="47" cy="322.35" r="2.6" fill="#e4e7f1"/>
<circle cx="47" cy="333.3" r="2.6" fill="#e4e7f1"/>
<circle cx="47" cy="344.25" r="2.6" fill="#e4e7f1"/>
<circle cx="47" cy="355.2" r="2.6" fill="#e4e7f1"/>
<circle cx="47" cy="366.15" r="2.6" fill="#e4e7f1"/>
<circle cx="47" cy="377.1" r="2.6" fill="#e4e7f1"/>
<circle cx="47" cy="388.05" r="2.6" fill="#e4e7f1"/>
<circle cx="47" cy="399" r="2.6" fill="#e4e7f1"/>
<path d="M177.2,265.6L181.2,269.6M177.2,269.6L181.2,265.6" stroke="#6a6262" stroke-width="0.8" fill="none"/>
<path d="M177.2,276.55L181.2,280.55M177.2,280.55L181.2,276.55" stroke="#6a6262" stroke-width="0.8" fill="none"/>
<path d="M177.2,287.5L181.2,291.5M177.2,291.5L181.2,287.5" stroke="#6a6262" stroke-width="0.8" fill="none"/>
<path d="M177.2,298.45L181.2,302.45M177.2,302.45L181.2,298.45" stroke="#6a6262" stroke-width="0.8" fill="none"/>
<path d="M177.2,309.4L181.2,313.4M177.2,313.4L181.2,309.4" stroke="#6a6262" stroke-width="0.8" fill="none"/>
<path d="M177.2,320.35L181.2,324.35M177.2,324.35L181.2,320.35" stroke="#6a6262" stroke-width="0.8" fill="none"/>
<path d="M177.2,331.3L181.2,335.3M177.2,335.3L181.2,331.3" stroke="#6a6262" stroke-width="0.8" fill="none"/>
<path d="M177.2,342.25L181.2,346.25M177.2,346.25L181.2,342.25" stroke="#6a6262" stroke-width="0.8" fill="none"/>
<path d="M177.2,353.2L181.2,357.2M177.2,357.2L181.2,353.2" stroke="#6a6262" stroke-width="0.8" fill="none"/>
<path d="M177.2,364.15L181.2,368.15M177.2,368.15L181.2,364.15" stroke="#6a6262" stroke-width="0.8" fill="none"/>
<path d="M177.2,375.1L181.2,379.1M177.2,379.1L181.2,375.1" stroke="#6a6262" stroke-width="0.8" fill="none"/>
<path d="M177.2,386.05L181.2,390.05M177.2,390.05L181.2,386.05" stroke="#6a6262" stroke-width="0.8" fill="none"/>
<path d="M177.2,397L181.2,401M177.2,401L181.2,397" stroke="#6a6262" stroke-width="0.8" fill="none"/>
<line x1="47" y1="246.3" x2="47" y2="248.3" stroke="#222" stroke-width="0.7"/>
<line x1="47" y1="422.4" x2="47" y2="420.4" stroke="#222" stroke-width="0.7"/>
<text x="47" y="430.9" font-family="Liberation Serif, serif" font-size="9.5" text-anchor="middle" fill="#2b2b2b" stroke="#2b2b2b" stroke-width="0.1">0</text>
<line x1="90.8" y1="246.3" x2="90.8" y2="248.3" stroke="#222" stroke-width="0.7"/>
<line x1="90.8" y1="422.4" x2="90.8" y2="420.4" stroke="#222" stroke-width="0.7"/>
<text x="90.8" y="430.9" font-family="Liberation Serif, serif" font-size="9.5" text-anchor="middle" fill="#2b2b2b" stroke="#2b2b2b" stroke-width="0.1">2</text>
<line x1="134.6" y1="246.3" x2="134.6" y2="248.3" stroke="#222" stroke-width="0.7"/>
<line x1="134.6" y1="422.4" x2="134.6" y2="420.4" stroke="#222" stroke-width="0.7"/>
<text x="134.6" y="430.9" font-family="Liberation Serif, serif" font-size="9.5" text-anchor="middle" fill="#2b2b2b" stroke="#2b2b2b" stroke-width="0.1">4</text>
<line x1="178.4" y1="246.3" x2="178.4" y2="248.3" stroke="#222" stroke-width="0.7"/>
<line x1="178.4" y1="422.4" x2="178.4" y2="420.4" stroke="#222" stroke-width="0.7"/>
<text x="178.4" y="430.9" font-family="Liberation Serif, serif" font-size="9.5" text-anchor="middle" fill="#2b2b2b" stroke="#2b2b2b" stroke-width="0.1">6</text>
<line x1="26" y1="267.6" x2="28" y2="267.6" stroke="#222" stroke-width="0.7"/>
<line x1="202.5" y1="267.6" x2="200.5" y2="267.6" stroke="#222" stroke-width="0.7"/>
<text x="24.3" y="269.9" font-family="Liberation Serif, serif" font-size="9.5" text-anchor="end" fill="#2b2b2b" stroke="#2b2b2b" stroke-width="0.1">0</text>
<line x1="26" y1="311.4" x2="28" y2="311.4" stroke="#222" stroke-width="0.7"/>
<line x1="202.5" y1="311.4" x2="200.5" y2="311.4" stroke="#222" stroke-width="0.7"/>
<text x="24.3" y="313.7" font-family="Liberation Serif, serif" font-size="9.5" text-anchor="end" fill="#2b2b2b" stroke="#2b2b2b" stroke-width="0.1">2</text>
<line x1="26" y1="355.2" x2="28" y2="355.2" stroke="#222" stroke-width="0.7"/>
<line x1="202.5" y1="355.2" x2="200.5" y2="355.2" stroke="#222" stroke-width="0.7"/>
<text x="24.3" y="357.5" font-family="Liberation Serif, serif" font-size="9.5" text-anchor="end" fill="#2b2b2b" stroke="#2b2b2b" stroke-width="0.1">4</text>
<line x1="26" y1="399" x2="28" y2="399" stroke="#222" stroke-width="0.7"/>
<line x1="202.5" y1="399" x2="200.5" y2="399" stroke="#222" stroke-width="0.7"/>
<text x="24.3" y="401.3" font-family="Liberation Serif, serif" font-size="9.5" text-anchor="end" fill="#2b2b2b" stroke="#2b2b2b" stroke-width="0.1">6</text>
<rect x="26" y="246.3" width="176.5" height="176.1" fill="none" stroke="#2a2a2a" stroke-width="0.8"/>
<text x="82.04" y="441.6" font-family="Liberation Serif, serif" font-size="12.4" fill="#2b2b2b" stroke="#2b2b2b" stroke-width="0.1" textLength="68" lengthAdjust="spacingAndGlyphs">Distance(m)</text>
<text transform="translate(14.8,331.11) rotate(-90)" font-family="Liberation Serif, serif" font-size="12.4" fill="#2b2b2b" stroke="#2b2b2b" stroke-width="0.1" text-anchor="middle" textLength="55" lengthAdjust="spacingAndGlyphs">Depth(m)</text>
<rect x="212.8" y="246.4" width="13.8" height="176.2" fill="url(#cmap)" stroke="#2a2a2a" stroke-width="0.8"/>
<line x1="212.8" y1="422.6" x2="214.3" y2="422.6" stroke="#222" stroke-width="0.7"/>
<line x1="226.6" y1="422.6" x2="225.1" y2="422.6" stroke="#222" stroke-width="0.7"/>
<text x="228.1" y="425.7" font-family="Liberation Serif, serif" font-size="9.8" fill="#2b2b2b" stroke="#2b2b2b" stroke-width="0.1">5.0</text>
<line x1="212.8" y1="363.87" x2="214.3" y2="363.87" stroke="#222" stroke-width="0.7"/>
<line x1="226.6" y1="363.87" x2="225.1" y2="363.87" stroke="#222" stroke-width="0.7"/>
<text x="228.1" y="366.97" font-family="Liberation Serif, serif" font-size="9.8" fill="#2b2b2b" stroke="#2b2b2b" stroke-width="0.1">5.5</text>
<line x1="212.8" y1="305.13" x2="214.3" y2="305.13" stroke="#222" stroke-width="0.7"/>
<line x1="226.6" y1="305.13" x2="225.1" y2="305.13" stroke="#222" stroke-width="0.7"/>
<text x="228.1" y="308.23" font-family="Liberation Serif, serif" font-size="9.8" fill="#2b2b2b" stroke="#2b2b2b" stroke-width="0.1">6.0</text>
<line x1="212.8" y1="246.4" x2="214.3" y2="246.4" stroke="#222" stroke-width="0.7"/>
<line x1="226.6" y1="246.4" x2="225.1" y2="246.4" stroke="#222" stroke-width="0.7"/>
<text x="228.1" y="249.5" font-family="Liberation Serif, serif" font-size="9.8" fill="#2b2b2b" stroke="#2b2b2b" stroke-width="0.1">6.5</text>
<text x="123.2" y="460.6" font-family="Liberation Serif, serif" font-size="12" font-weight="bold" fill="#1a1a1a" text-anchor="middle" textLength="13" lengthAdjust="spacingAndGlyphs">(c)</text>
<rect x="333.3" y="250.9" width="175.9" height="175.9" fill="#0687ce"/>
<clipPath id="clipd"><rect x="352.31" y="261.54" width="135.78" height="153.96"/></clipPath>
<g clip-path="url(#clipd)">
<rect x="347.93" y="253.88" width="144.54" height="166.44" fill="#02b0e0"/>
<ellipse cx="415.82" cy="299.87" rx="52.56" ry="2.19" fill="#07bddb" filter="url(#b1_5)"/>
<ellipse cx="455.24" cy="300.96" rx="26.28" ry="3.28" fill="#16b9c3" filter="url(#b1_5)"/>
<ellipse cx="453.05" cy="310.38" rx="28.47" ry="2.63" fill="#0abcd7" filter="url(#b1_5)"/>
<ellipse cx="464" cy="328.34" rx="26.28" ry="17.52" fill="#07bddb" filter="url(#b3)"/>
<ellipse cx="400.49" cy="306.44" rx="24.09" ry="2.63" fill="#057ac6" filter="url(#b1_2)"/>
<ellipse cx="374.21" cy="315.86" rx="13.14" ry="2.63" fill="#057ac6" filter="url(#b1_2)"/>
<ellipse cx="411.44" cy="319.58" rx="13.14" ry="2.41" fill="#057ac6" filter="url(#b1_2)"/>
<ellipse cx="367.64" cy="326.15" rx="7.66" ry="2.19" fill="#057ac6" filter="url(#b1_2)"/>
<ellipse cx="433.34" cy="318.05" rx="9.86" ry="1.97" fill="#057ac6" filter="url(#b1_2)"/>
<ellipse cx="448.67" cy="315.2" rx="10.95" ry="1.75" fill="#057ac6" filter="url(#b1_2)"/>
<ellipse cx="396.11" cy="356.81" rx="10.95" ry="2.63" fill="#057ac6" filter="url(#b1_2)"/>
<ellipse cx="422.39" cy="354.62" rx="12.04" ry="2.19" fill="#057ac6" filter="url(#b1_2)"/>
<ellipse cx="448.67" cy="353.52" rx="9.86" ry="1.97" fill="#057ac6" filter="url(#b1_2)"/>
<ellipse cx="376.4" cy="364.47" rx="10.95" ry="1.97" fill="#057ac6" filter="url(#b1_2)"/>
<ellipse cx="407.06" cy="366.66" rx="10.95" ry="1.97" fill="#057ac6" filter="url(#b1_2)"/>
<ellipse cx="361.07" cy="350.24" rx="6.57" ry="3.07" fill="#057ac6" filter="url(#b1_2)"/>
<ellipse cx="363.26" cy="306.44" rx="8.76" ry="2.19" fill="#057ac6" filter="url(#b1_2)"/>
<ellipse cx="464" cy="323.96" rx="19.71" ry="6.57" fill="#2abbab" filter="url(#b2)"/>
<ellipse cx="462.9" cy="336" rx="16.42" ry="6.13" fill="#44be8c" filter="url(#b1_8)"/>
<ellipse cx="464" cy="333.81" rx="10.95" ry="2.19" fill="#9ece2a" filter="url(#b1_2)"/>
<ellipse cx="457.43" cy="339.29" rx="9.86" ry="1.75" fill="#78c450" filter="url(#b1_2)"/>
<ellipse cx="455.24" cy="296.58" rx="17.52" ry="2.19" fill="#37bc9b" filter="url(#b1_5)"/>
<ellipse cx="461.81" cy="316.29" rx="13.14" ry="2.19" fill="#51bf7d" filter="url(#b1_5)"/>
<ellipse cx="471.66" cy="323.96" rx="4.82" ry="2.19" fill="#c1da16" filter="url(#b1)"/>
<ellipse cx="470.57" cy="342.57" rx="6.57" ry="2.63" fill="#91cb37" filter="url(#b1)"/>
<ellipse cx="466.19" cy="304.25" rx="15.33" ry="6.57" fill="#23bab3" filter="url(#b2)"/>
<ellipse cx="476.04" cy="298.12" rx="9.2" ry="5.26" fill="#5ec16e" filter="url(#b1_2)"/>
<ellipse cx="473.2" cy="298.56" rx="3.28" ry="2.85" fill="#fcec0c" filter="url(#b0_8)"/>
<ellipse cx="479.33" cy="297.68" rx="3.28" ry="2.85" fill="#fdda0b" filter="url(#b0_8)"/>
<ellipse cx="478.67" cy="349.58" rx="7.01" ry="5.26" fill="#78c450" filter="url(#b1_2)"/>
<ellipse cx="478.67" cy="349.58" rx="3.5" ry="3.07" fill="#fdda0b" filter="url(#b0_8)"/>
<ellipse cx="386.91" cy="330.09" rx="4.82" ry="1.75" fill="#5ec16e" filter="url(#b0_8)"/>
<ellipse cx="386.91" cy="344.33" rx="4.82" ry="1.75" fill="#44be8c" filter="url(#b0_8)"/>
<ellipse cx="420.2" cy="325.49" rx="4.82" ry="1.75" fill="#5ec16e" filter="url(#b0_8)"/>
<ellipse cx="418.01" cy="344.76" rx="6.57" ry="1.75" fill="#30bba3" filter="url(#b0_8)"/>
<ellipse cx="385.6" cy="337.54" rx="6.57" ry="3.07" fill="#0568b9" filter="url(#b1)"/>
<ellipse cx="403.56" cy="346.52" rx="8.76" ry="3.5" fill="#0568b9" filter="url(#b1)"/>
<ellipse cx="359.98" cy="338.85" rx="4.38" ry="2.85" fill="#0568b9" filter="url(#b1)"/>
<ellipse cx="436.41" cy="328.34" rx="6.57" ry="2.63" fill="#0568b9" filter="url(#b1)"/>
<ellipse cx="437.94" cy="346.52" rx="7.66" ry="3.07" fill="#0568b9" filter="url(#b1)"/>
<ellipse cx="421.08" cy="337.1" rx="3.94" ry="2.85" fill="#0568b9" filter="url(#b1)"/>
<ellipse cx="408.59" cy="320.46" rx="6.57" ry="2.19" fill="#0568b9" filter="url(#b1)"/>
<ellipse cx="388.01" cy="357.47" rx="8.32" ry="2.85" fill="#0568b9" filter="url(#b1)"/>
<ellipse cx="418.01" cy="359" rx="7.66" ry="2.19" fill="#0568b9" filter="url(#b1)"/>
<ellipse cx="374.21" cy="375.42" rx="8.76" ry="1.75" fill="#91cb37" filter="url(#b1)"/>
<ellipse cx="405.96" cy="374.77" rx="12.04" ry="1.75" fill="#9ece2a" filter="url(#b1)"/>
<ellipse cx="437.72" cy="365.57" rx="17.52" ry="1.97" fill="#91cb37" filter="url(#b1_2)"/>
<ellipse cx="389.54" cy="368.85" rx="6.57" ry="1.75" fill="#056dbc" filter="url(#b1)"/>
<ellipse cx="420.2" cy="371.04" rx="6.57" ry="1.53" fill="#0576c3" filter="url(#b1)"/>
<ellipse cx="403.56" cy="337.1" rx="8.76" ry="4.6" fill="#37bc9b" filter="url(#b1)"/>
<ellipse cx="403.56" cy="337.1" rx="7.01" ry="3.72" fill="#eae60e" filter="url(#b0_8)"/>
<ellipse cx="403.56" cy="337.1" rx="5.26" ry="2.63" fill="#fb600f" filter="url(#b0_6)"/>
<ellipse cx="403.56" cy="337.1" rx="3.28" ry="1.64" fill="#cc0f19" filter="url(#b0_5)"/>
<ellipse cx="439.47" cy="337.1" rx="8.76" ry="4.6" fill="#37bc9b" filter="url(#b1)"/>
<ellipse cx="439.47" cy="337.1" rx="7.01" ry="3.72" fill="#eae60e" filter="url(#b0_8)"/>
<ellipse cx="439.47" cy="337.1" rx="5.26" ry="2.63" fill="#fb600f" filter="url(#b0_6)"/>
<ellipse cx="439.47" cy="337.1" rx="3.28" ry="1.64" fill="#cc0f19" filter="url(#b0_5)"/>
<path d="M347.93,381.99 L362.16,381.67 Q376.4,381.34 392.82,380.24 L392.82,380.24 Q409.25,379.15 423.49,376.19 L423.49,376.19 Q437.72,373.24 450.86,368.86 L450.86,368.86 Q464,364.47 478.24,360.64 L492.47,356.81 Q492.47,356.81 492.47,356.81 L492.47,420.32 Q492.47,420.32 492.47,420.32 L347.93,420.32 Q347.93,420.32 347.93,420.32 L347.93,381.99 Q347.93,381.99 347.93,381.99Z" fill="#0558ac" filter="url(#b1_8)"/>
<ellipse cx="453.05" cy="392.94" rx="28.47" ry="8.76" fill="#063e8e" filter="url(#b4)"/>
<ellipse cx="451.95" cy="392.29" rx="19.71" ry="4.82" fill="#082a64" filter="url(#b3)"/>
<ellipse cx="398.3" cy="396.23" rx="43.8" ry="7.66" fill="#05469b" filter="url(#b2_5)"/>
<ellipse cx="361.07" cy="402.8" rx="5.47" ry="3.28" fill="#068bd0" filter="url(#b1_5)"/>
<rect x="347.93" y="408.93" width="144.54" height="11.39" fill="#0564b6" filter="url(#b1_5)"/>
<path d="M347.93,253.88 L492.47,253.88 Q492.47,253.88 492.47,253.88 L492.47,288.92 Q492.47,288.92 492.47,288.92 L477.14,290.01 Q477.14,290.01 477.14,290.01 L464,292.86 Q464,292.86 464,292.86 L420.2,293.3 Q420.2,293.3 420.2,293.3 L376.4,293.74 Q376.4,293.74 376.4,293.74 L347.93,293.74 Q347.93,293.74 347.93,293.74 L347.93,253.88 Q347.93,253.88 347.93,253.88Z" fill="#054fa4" filter="url(#b1_2)"/>
<path d="M381.83,271.4 L468.43,271.4 Q480.43,271.4 480.43,281.8 L480.43,281.8 Q480.43,292.2 468.43,292.2 L381.83,292.2 Q369.83,292.2 369.83,281.8 L369.83,281.8 Q369.83,271.4 381.83,271.4Z" fill="#063b87" filter="url(#b3)"/>
<path d="M385.31,274.69 L464.95,274.69 Q474.95,274.69 474.95,282.35 L474.95,282.35 Q474.95,290.01 464.95,290.01 L385.31,290.01 Q375.31,290.01 375.31,282.35 L375.31,282.35 Q375.31,274.69 385.31,274.69Z" fill="#08285f" filter="url(#b2_5)"/>
<path d="M390.97,277.97 L460.38,277.97 Q468.38,277.97 468.38,282.9 L468.38,282.9 Q468.38,287.82 460.38,287.82 L390.97,287.82 Q382.97,287.82 382.97,282.9 L382.97,282.9 Q382.97,277.97 390.97,277.97Z" fill="#0a2258" filter="url(#b2)"/>
<ellipse cx="428.96" cy="264.83" rx="48.18" ry="4.38" fill="#0555aa" filter="url(#b2)"/>
<path d="M347.93,293.3 L477.14,291.11 L492.47,288.48 L492.47,292.2 L347.93,296.58Z" fill="#056dbc" filter="url(#b1_2)"/>
<rect x="343.55" y="253.88" width="10.95" height="166.44" fill="#0687ce"/>
<rect x="484.59" y="253.88" width="12.26" height="166.44" fill="#0687ce"/>
</g>
<circle cx="354.5" cy="271.4" r="2.6" fill="#e4e7f1"/>
<circle cx="354.5" cy="282.35" r="2.6" fill="#e4e7f1"/>
<circle cx="354.5" cy="293.3" r="2.6" fill="#e4e7f1"/>
<circle cx="354.5" cy="304.25" r="2.6" fill="#e4e7f1"/>
<circle cx="354.5" cy="315.2" r="2.6" fill="#e4e7f1"/>
<circle cx="354.5" cy="326.15" r="2.6" fill="#e4e7f1"/>
<circle cx="354.5" cy="337.1" r="2.6" fill="#e4e7f1"/>
<circle cx="354.5" cy="348.05" r="2.6" fill="#e4e7f1"/>
<circle cx="354.5" cy="359" r="2.6" fill="#e4e7f1"/>
<circle cx="354.5" cy="369.95" r="2.6" fill="#e4e7f1"/>
<circle cx="354.5" cy="380.9" r="2.6" fill="#e4e7f1"/>
<circle cx="354.5" cy="391.85" r="2.6" fill="#e4e7f1"/>
<circle cx="354.5" cy="402.8" r="2.6" fill="#e4e7f1"/>
<path d="M484.7,269.4L488.7,273.4M484.7,273.4L488.7,269.4" stroke="#6a6262" stroke-width="0.8" fill="none"/>
<path d="M484.7,280.35L488.7,284.35M484.7,284.35L488.7,280.35" stroke="#6a6262" stroke-width="0.8" fill="none"/>
<path d="M484.7,291.3L488.7,295.3M484.7,295.3L488.7,291.3" stroke="#6a6262" stroke-width="0.8" fill="none"/>
<path d="M484.7,302.25L488.7,306.25M484.7,306.25L488.7,302.25" stroke="#6a6262" stroke-width="0.8" fill="none"/>
<path d="M484.7,313.2L488.7,317.2M484.7,317.2L488.7,313.2" stroke="#6a6262" stroke-width="0.8" fill="none"/>
<path d="M484.7,324.15L488.7,328.15M484.7,328.15L488.7,324.15" stroke="#6a6262" stroke-width="0.8" fill="none"/>
<path d="M484.7,335.1L488.7,339.1M484.7,339.1L488.7,335.1" stroke="#6a6262" stroke-width="0.8" fill="none"/>
<path d="M484.7,346.05L488.7,350.05M484.7,350.05L488.7,346.05" stroke="#6a6262" stroke-width="0.8" fill="none"/>
<path d="M484.7,357L488.7,361M484.7,361L488.7,357" stroke="#6a6262" stroke-width="0.8" fill="none"/>
<path d="M484.7,367.95L488.7,371.95M484.7,371.95L488.7,367.95" stroke="#6a6262" stroke-width="0.8" fill="none"/>
<path d="M484.7,378.9L488.7,382.9M484.7,382.9L488.7,378.9" stroke="#6a6262" stroke-width="0.8" fill="none"/>
<path d="M484.7,389.85L488.7,393.85M484.7,393.85L488.7,389.85" stroke="#6a6262" stroke-width="0.8" fill="none"/>
<path d="M484.7,400.8L488.7,404.8M484.7,404.8L488.7,400.8" stroke="#6a6262" stroke-width="0.8" fill="none"/>
<line x1="354.5" y1="250.9" x2="354.5" y2="252.9" stroke="#222" stroke-width="0.7"/>
<line x1="354.5" y1="426.8" x2="354.5" y2="424.8" stroke="#222" stroke-width="0.7"/>
<text x="354.5" y="435.3" font-family="Liberation Serif, serif" font-size="9.5" text-anchor="middle" fill="#2b2b2b" stroke="#2b2b2b" stroke-width="0.1">0</text>
<line x1="398.3" y1="250.9" x2="398.3" y2="252.9" stroke="#222" stroke-width="0.7"/>
<line x1="398.3" y1="426.8" x2="398.3" y2="424.8" stroke="#222" stroke-width="0.7"/>
<text x="398.3" y="435.3" font-family="Liberation Serif, serif" font-size="9.5" text-anchor="middle" fill="#2b2b2b" stroke="#2b2b2b" stroke-width="0.1">2</text>
<line x1="442.1" y1="250.9" x2="442.1" y2="252.9" stroke="#222" stroke-width="0.7"/>
<line x1="442.1" y1="426.8" x2="442.1" y2="424.8" stroke="#222" stroke-width="0.7"/>
<text x="442.1" y="435.3" font-family="Liberation Serif, serif" font-size="9.5" text-anchor="middle" fill="#2b2b2b" stroke="#2b2b2b" stroke-width="0.1">4</text>
<line x1="485.9" y1="250.9" x2="485.9" y2="252.9" stroke="#222" stroke-width="0.7"/>
<line x1="485.9" y1="426.8" x2="485.9" y2="424.8" stroke="#222" stroke-width="0.7"/>
<text x="485.9" y="435.3" font-family="Liberation Serif, serif" font-size="9.5" text-anchor="middle" fill="#2b2b2b" stroke="#2b2b2b" stroke-width="0.1">6</text>
<line x1="333.3" y1="271.4" x2="335.3" y2="271.4" stroke="#222" stroke-width="0.7"/>
<line x1="509.2" y1="271.4" x2="507.2" y2="271.4" stroke="#222" stroke-width="0.7"/>
<text x="331.6" y="273.7" font-family="Liberation Serif, serif" font-size="9.5" text-anchor="end" fill="#2b2b2b" stroke="#2b2b2b" stroke-width="0.1">0</text>
<line x1="333.3" y1="315.2" x2="335.3" y2="315.2" stroke="#222" stroke-width="0.7"/>
<line x1="509.2" y1="315.2" x2="507.2" y2="315.2" stroke="#222" stroke-width="0.7"/>
<text x="331.6" y="317.5" font-family="Liberation Serif, serif" font-size="9.5" text-anchor="end" fill="#2b2b2b" stroke="#2b2b2b" stroke-width="0.1">2</text>
<line x1="333.3" y1="359" x2="335.3" y2="359" stroke="#222" stroke-width="0.7"/>
<line x1="509.2" y1="359" x2="507.2" y2="359" stroke="#222" stroke-width="0.7"/>
<text x="331.6" y="361.3" font-family="Liberation Serif, serif" font-size="9.5" text-anchor="end" fill="#2b2b2b" stroke="#2b2b2b" stroke-width="0.1">4</text>
<line x1="333.3" y1="402.8" x2="335.3" y2="402.8" stroke="#222" stroke-width="0.7"/>
<line x1="509.2" y1="402.8" x2="507.2" y2="402.8" stroke="#222" stroke-width="0.7"/>
<text x="331.6" y="405.1" font-family="Liberation Serif, serif" font-size="9.5" text-anchor="end" fill="#2b2b2b" stroke="#2b2b2b" stroke-width="0.1">6</text>
<rect x="333.3" y="250.9" width="175.9" height="175.9" fill="none" stroke="#2a2a2a" stroke-width="0.8"/>
<text x="389.54" y="446" font-family="Liberation Serif, serif" font-size="12.4" fill="#2b2b2b" stroke="#2b2b2b" stroke-width="0.1" textLength="68" lengthAdjust="spacingAndGlyphs">Distance(m)</text>
<text transform="translate(322.1,334.91) rotate(-90)" font-family="Liberation Serif, serif" font-size="12.4" fill="#2b2b2b" stroke="#2b2b2b" stroke-width="0.1" text-anchor="middle" textLength="55" lengthAdjust="spacingAndGlyphs">Depth(m)</text>
<rect x="520" y="251" width="14" height="175.8" fill="url(#cmap)" stroke="#2a2a2a" stroke-width="0.8"/>
<line x1="520" y1="426.8" x2="521.5" y2="426.8" stroke="#222" stroke-width="0.7"/>
<line x1="534" y1="426.8" x2="532.5" y2="426.8" stroke="#222" stroke-width="0.7"/>
<text x="535.5" y="429.9" font-family="Liberation Serif, serif" font-size="9.8" fill="#2b2b2b" stroke="#2b2b2b" stroke-width="0.1">1</text>
<line x1="520" y1="401.69" x2="521.5" y2="401.69" stroke="#222" stroke-width="0.7"/>
<line x1="534" y1="401.69" x2="532.5" y2="401.69" stroke="#222" stroke-width="0.7"/>
<text x="535.5" y="404.79" font-family="Liberation Serif, serif" font-size="9.8" fill="#2b2b2b" stroke="#2b2b2b" stroke-width="0.1">2</text>
<line x1="520" y1="376.57" x2="521.5" y2="376.57" stroke="#222" stroke-width="0.7"/>
<line x1="534" y1="376.57" x2="532.5" y2="376.57" stroke="#222" stroke-width="0.7"/>
<text x="535.5" y="379.67" font-family="Liberation Serif, serif" font-size="9.8" fill="#2b2b2b" stroke="#2b2b2b" stroke-width="0.1">3</text>
<line x1="520" y1="351.46" x2="521.5" y2="351.46" stroke="#222" stroke-width="0.7"/>
<line x1="534" y1="351.46" x2="532.5" y2="351.46" stroke="#222" stroke-width="0.7"/>
<text x="535.5" y="354.56" font-family="Liberation Serif, serif" font-size="9.8" fill="#2b2b2b" stroke="#2b2b2b" stroke-width="0.1">4</text>
<line x1="520" y1="326.34" x2="521.5" y2="326.34" stroke="#222" stroke-width="0.7"/>
<line x1="534" y1="326.34" x2="532.5" y2="326.34" stroke="#222" stroke-width="0.7"/>
<text x="535.5" y="329.44" font-family="Liberation Serif, serif" font-size="9.8" fill="#2b2b2b" stroke="#2b2b2b" stroke-width="0.1">5</text>
<line x1="520" y1="301.23" x2="521.5" y2="301.23" stroke="#222" stroke-width="0.7"/>
<line x1="534" y1="301.23" x2="532.5" y2="301.23" stroke="#222" stroke-width="0.7"/>
<text x="535.5" y="304.33" font-family="Liberation Serif, serif" font-size="9.8" fill="#2b2b2b" stroke="#2b2b2b" stroke-width="0.1">6</text>
<line x1="520" y1="276.11" x2="521.5" y2="276.11" stroke="#222" stroke-width="0.7"/>
<line x1="534" y1="276.11" x2="532.5" y2="276.11" stroke="#222" stroke-width="0.7"/>
<text x="535.5" y="279.21" font-family="Liberation Serif, serif" font-size="9.8" fill="#2b2b2b" stroke="#2b2b2b" stroke-width="0.1">7</text>
<line x1="520" y1="251" x2="521.5" y2="251" stroke="#222" stroke-width="0.7"/>
<line x1="534" y1="251" x2="532.5" y2="251" stroke="#222" stroke-width="0.7"/>
<text x="535.5" y="254.1" font-family="Liberation Serif, serif" font-size="9.8" fill="#2b2b2b" stroke="#2b2b2b" stroke-width="0.1">8</text>
<text x="502.8" y="245.7" font-family="Liberation Serif, serif" font-size="9.8" fill="#2b2b2b" stroke="#2b2b2b" stroke-width="0.15" textLength="44.5"><tspan font-style="italic">σ</tspan>(mS·m<tspan font-size="6" dy="-3.6">-1</tspan><tspan dy="3.6">)</tspan></text>
<text x="430.5" y="460.7" font-family="Liberation Serif, serif" font-size="12" font-weight="bold" fill="#1a1a1a" text-anchor="middle" textLength="13" lengthAdjust="spacingAndGlyphs">(d)</text>
</svg></body></html>
